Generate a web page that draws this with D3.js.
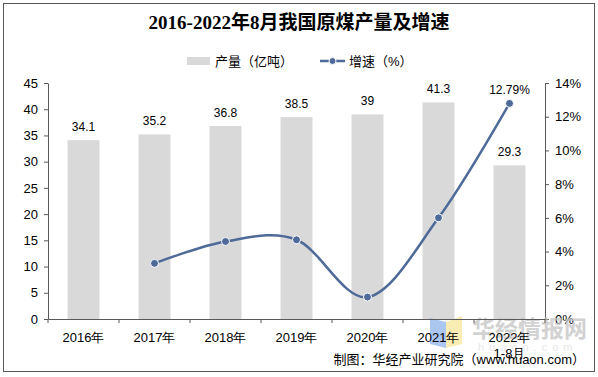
<!DOCTYPE html>
<html lang="zh">
<head>
<meta charset="UTF-8" />
<title>2016-2022年8月我国原煤产量及增速</title>
<script src="https://d3js.org/d3.v7.min.js"></script>
<style>
  body { margin: 0; background: #fff; }
  svg { display: block; font-family: "Liberation Sans", "Noto Sans CJK SC", sans-serif; }
</style>
</head>
<body>
<svg id="chart" width="598" height="377"></svg>
<script>
  // data
  const years = ["2016年", "2017年", "2018年", "2019年", "2020年", "2021年", "2022年\n1-8月"];
  const output = [34.1, 35.2, 36.8, 38.5, 39, 41.3, 29.3];
  const growthYears = ["2017年", "2018年", "2019年", "2020年", "2021年", "2022年\n1-8月"];
  const growth = [3.3, 4.6, 4.7, 1.3, 6.0, 12.79];
  const leftTicks = [0, 5, 10, 15, 20, 25, 30, 35, 40, 45];
  const rightTicks = [0, 2, 4, 6, 8, 10, 12, 14];

  const svg = d3.select("#chart");
  const margin = { left: 48, right: 53, top: 83, bottom: 58 };
  const W = 598, H = 377;

  // outer frame
  svg.append("rect")
    .attr("x", 3.5).attr("y", 3.5).attr("width", 591).attr("height", 368)
    .attr("fill", "#fff").attr("stroke", "#595959").attr("stroke-width", 1);

  svg.append("text")
    .attr("x", 299).attr("y", 29)
    .attr("text-anchor", "middle")
    .style("font-family", "'Liberation Serif', 'Noto Sans CJK SC', serif")
    .style("font-weight", "bold")
    .style("font-size", "19px")
    .text("2016-2022年8月我国原煤产量及增速");

  const x = d3.scaleBand().domain(years)
    .range([margin.left, W - margin.right]).paddingInner(0).paddingOuter(0);
  const y = d3.scaleLinear().domain([0, 45]).range([H - margin.bottom, margin.top]);
  const y2 = d3.scaleLinear().domain([0, 14]).range([H - margin.bottom, margin.top]);

  const barW = x.bandwidth() * 0.45;

  svg.append("g").selectAll("rect").data(output).join("rect")
    .attr("x", (d, i) => x(years[i]) + (x.bandwidth() - barW) / 2)
    .attr("y", d => y(d))
    .attr("width", barW)
    .attr("height", d => y(0) - y(d))
    .attr("fill", "#d9d9d9");

  svg.append("g").selectAll("text").data(output).join("text")
    .attr("x", (d, i) => x(years[i]) + x.bandwidth() / 2)
    .attr("y", d => y(d) - 9)
    .attr("text-anchor", "middle")
    .style("font-size", "12px")
    .attr("fill", "#000")
    .text(d => d);

  // axes
  const axisStyle = g => {
    g.selectAll(".domain").attr("stroke", "#595959");
    g.selectAll(".tick line").attr("stroke", "#595959");
    g.selectAll(".tick text").style("font-size", "13px").attr("fill", "#000");
  };

  svg.append("g")
    .attr("transform", `translate(${margin.left},0)`)
    .call(d3.axisLeft(y).tickValues(leftTicks).tickSize(4).tickSizeOuter(0).tickPadding(6))
    .call(axisStyle);

  svg.append("g")
    .attr("transform", `translate(${W - margin.right},0)`)
    .call(d3.axisRight(y2).tickValues(rightTicks).tickSize(4).tickSizeOuter(0)
      .tickPadding(6).tickFormat(d => d + "%"))
    .call(axisStyle);

  // watermark (drawn under the axis labels)
  const wm = svg.append("g").attr("opacity", 0.75);
  wm.append("path").attr("d", "M430,318 L446,322 L446,348 L430,344 Z").attr("fill", "#8fb4ec");
  wm.append("path").attr("d", "M446,322 L462,316 L462,344 L446,348 Z").attr("fill", "#f9e79a");
  wm.append("text")
    .attr("x", 472).attr("y", 337)
    .style("font-size", "23px").style("font-weight", "bold")
    .attr("fill", "#c4c4c4")
    .text("华经情报网");
  wm.append("text")
    .attr("x", 478).attr("y", 351)
    .style("font-size", "11px").style("letter-spacing", "5px")
    .attr("fill", "#e0e0e0")
    .text("huaon.com");

  const xa = svg.append("g")
    .attr("transform", `translate(0,${H - margin.bottom})`)
    .call(d3.axisBottom(x).tickSize(0).tickPadding(14))
    .call(axisStyle);
  xa.selectAll(".tick text").each(function (d) {
    const parts = d.split("\n");
    const t = d3.select(this).text(null);
    parts.forEach((p, i) => t.append("tspan")
      .attr("x", 0).attr("dy", i === 0 ? "0.71em" : "1.25em").text(p));
  });
  // band boundary ticks
  xa.selectAll("line.sep").data(years.concat(["end"])).join("line")
    .attr("class", "sep")
    .attr("x1", (d, i) => margin.left + i * x.bandwidth())
    .attr("x2", (d, i) => margin.left + i * x.bandwidth())
    .attr("y1", 0).attr("y2", 4)
    .attr("stroke", "#595959");

  // growth line
  const lineColor = "#4e6a98";
  const cx = d => x(d) + x.bandwidth() / 2;
  const line = d3.line()
    .x((d, i) => cx(growthYears[i]))
    .y(d => y2(d))
    .curve(d3.curveCatmullRom.alpha(0));

  svg.append("path")
    .datum(growth)
    .attr("d", line)
    .attr("fill", "none")
    .attr("stroke", lineColor)
    .attr("stroke-width", 2.5);

  svg.append("g").selectAll("circle").data(growth).join("circle")
    .attr("cx", (d, i) => cx(growthYears[i]))
    .attr("cy", d => y2(d))
    .attr("r", 4)
    .attr("fill", lineColor)
    .attr("stroke", "#fff")
    .attr("stroke-width", 1);

  const last = growth.length - 1;
  svg.append("text")
    .attr("x", cx(growthYears[last]))
    .attr("y", y2(growth[last]) - 9)
    .attr("text-anchor", "middle")
    .style("font-size", "12px")
    .text(growth[last] + "%");

  // legend
  const lg = svg.append("g").style("font-size", "13px");
  lg.append("rect").attr("x", 187).attr("y", 57).attr("width", 23).attr("height", 8).attr("fill", "#d9d9d9");
  lg.append("text").attr("x", 215).attr("y", 66).text("产量（亿吨）");
  lg.append("line").attr("x1", 320).attr("x2", 345).attr("y1", 61).attr("y2", 61)
    .attr("stroke", lineColor).attr("stroke-width", 2.5);
  lg.append("circle").attr("cx", 332.5).attr("cy", 61).attr("r", 3.5)
    .attr("fill", lineColor).attr("stroke", "#fff");
  lg.append("text").attr("x", 349).attr("y", 66).text("增速（%）");

  // source
  svg.append("text")
    .attr("x", 585).attr("y", 364)
    .attr("text-anchor", "end")
    .style("font-size", "13px")
    .text("制图：华经产业研究院（www.huaon.com）");
</script>
</body>
</html>
